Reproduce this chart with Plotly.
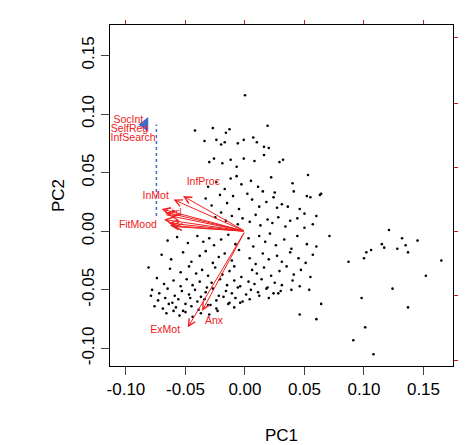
import plotly.graph_objects as go

pc1 = [0.000,-0.042,-0.027,-0.016,-0.013,0.019,-0.034,-0.024,-0.020,-0.017,-0.006,-0.001,0.007,0.010,0.016,0.020,
 -0.030,-0.026,-0.019,-0.012,-0.007,-0.001,0.008,0.016,0.029,0.032,-0.031,-0.024,-0.017,-0.012,-0.007,-0.003,0.005,0.011,0.015,0.022,0.025,0.040,0.041,0.053,0.055,0.064,
 -0.033,-0.028,-0.021,-0.015,-0.010,-0.005,0.002,0.006,0.012,0.018,0.024,0.027,0.031,0.036,0.046,0.050,0.060,
 -0.025,-0.020,-0.016,-0.011,-0.006,-0.002,0.004,0.009,0.013,0.019,0.023,0.028,0.034,0.038,0.044,0.050,0.057,
 -0.065,-0.057,-0.048,-0.040,-0.035,-0.030,-0.026,-0.020,-0.014,-0.008,0.003,0.007,0.012,0.017,0.021,0.026,0.033,0.039,0.044,0.052,0.060,
 -0.070,-0.062,-0.052,-0.045,-0.038,-0.033,-0.027,-0.022,-0.017,-0.011,-0.005,0.004,0.009,0.015,0.020,0.027,0.031,0.038,0.045,0.051,0.057,
 -0.063,-0.054,-0.047,-0.041,-0.036,-0.031,-0.025,-0.019,-0.013,-0.009,-0.003,0.006,0.010,0.016,0.022,0.029,0.035,0.041,0.047,0.055,
 -0.081,-0.074,-0.068,-0.060,-0.054,-0.049,-0.044,-0.038,-0.032,-0.028,-0.021,-0.015,-0.009,-0.004,0.003,0.008,0.014,0.019,0.025,0.031,0.040,0.046,0.054,
 -0.078,-0.072,-0.065,-0.059,-0.053,-0.047,-0.042,-0.037,-0.033,-0.027,-0.022,-0.016,-0.011,-0.006,0.001,0.005,0.011,0.018,0.024,0.030,0.039,
 -0.079,-0.073,-0.067,-0.061,-0.056,-0.050,-0.046,-0.040,-0.034,-0.029,-0.024,-0.018,-0.013,-0.008,-0.002,0.004,0.012,0.020,0.028,
 -0.076,-0.069,-0.064,-0.058,-0.052,-0.045,-0.039,-0.031,-0.024,-0.014,-0.009,-0.004,
 -0.066,-0.060,-0.055,-0.050,-0.044,-0.037,-0.030,-0.023,
 0.071,0.087,0.098,0.100,0.102,0.106,0.115,0.117,0.121,0.128,0.132,0.135,0.137,0.145,0.165,0.152,0.124,0.137,0.101,0.091,0.108,0.046,0.060,0.064,0.052,0.063]
pc2 = [0.116,0.086,0.088,0.084,0.087,0.090,0.077,0.078,0.074,0.076,0.075,0.078,0.080,0.076,0.072,0.071,
 0.059,0.062,0.058,0.061,0.055,0.062,0.060,0.065,0.059,0.061,0.038,0.042,0.036,0.045,0.047,0.040,0.043,0.038,0.034,0.046,0.033,0.041,0.034,0.048,0.029,0.032,
 0.028,0.022,0.031,0.024,0.030,0.019,0.032,0.027,0.021,0.025,0.029,0.020,0.023,0.021,0.019,0.015,0.013,
 0.012,0.016,0.009,0.013,0.006,0.011,0.008,0.014,0.005,0.010,0.007,0.012,0.004,0.009,0.011,0.003,0.006,
 -0.008,-0.005,-0.010,-0.004,-0.009,-0.006,-0.012,-0.007,-0.003,-0.011,-0.006,-0.013,-0.004,-0.009,-0.002,-0.012,-0.007,-0.015,-0.004,-0.011,-0.013,
 -0.020,-0.024,-0.018,-0.026,-0.021,-0.017,-0.027,-0.022,-0.019,-0.025,-0.016,-0.023,-0.028,-0.019,-0.024,-0.021,-0.026,-0.018,-0.023,-0.027,-0.020,
 -0.032,-0.035,-0.030,-0.036,-0.033,-0.038,-0.031,-0.037,-0.034,-0.030,-0.039,-0.033,-0.036,-0.031,-0.038,-0.034,-0.030,-0.037,-0.033,-0.039,
 -0.031,-0.040,-0.045,-0.042,-0.047,-0.041,-0.046,-0.043,-0.048,-0.044,-0.041,-0.046,-0.042,-0.047,-0.043,-0.045,-0.041,-0.048,-0.044,-0.046,-0.042,-0.047,-0.050,
 -0.050,-0.053,-0.049,-0.055,-0.051,-0.054,-0.050,-0.056,-0.052,-0.049,-0.055,-0.051,-0.053,-0.048,-0.054,-0.050,-0.052,-0.049,-0.053,-0.051,-0.050,
 -0.055,-0.059,-0.057,-0.061,-0.058,-0.062,-0.057,-0.060,-0.058,-0.063,-0.059,-0.056,-0.061,-0.057,-0.060,-0.058,-0.055,-0.057,-0.053,
 -0.064,-0.066,-0.062,-0.065,-0.068,-0.064,-0.067,-0.063,-0.066,-0.062,-0.065,-0.061,
 -0.070,-0.068,-0.072,-0.069,-0.073,-0.070,-0.071,-0.068,
 -0.004,-0.026,-0.057,-0.023,-0.018,-0.016,-0.011,-0.014,0.001,-0.015,-0.006,-0.012,-0.018,-0.008,-0.025,-0.038,-0.049,-0.065,-0.082,-0.093,-0.105,-0.071,-0.075,-0.062,0.030,0.031]

arrow_x = [-0.052,-0.060,-0.070,-0.066,-0.062,-0.068,-0.064,-0.060,-0.063,-0.036,-0.048]
arrow_y = [0.030,0.027,0.019,0.016,0.013,0.010,0.007,0.004,0.005,-0.068,-0.082]
label_names = ["InfProc","InMot","FitMood","Anx","ExMot","SocInt","SelfReg","InfSearch"]
label_x = [-0.035,-0.075,-0.090,-0.026,-0.067,-0.098,-0.097,-0.094]
label_y = [0.042,0.030,0.005,-0.077,-0.085,0.095,0.087,0.079]

fig = go.Figure()
fig.add_trace(go.Scatter(x=pc1, y=pc2, mode="markers", marker=dict(size=2.6, color="black"), hoverinfo="skip"))
for ax, ay in zip(arrow_x, arrow_y):
    fig.add_annotation(x=ax, y=ay, ax=0, ay=0, xref="x", yref="y", axref="x", ayref="y",
                       showarrow=True, arrowhead=5, arrowsize=1.4, arrowwidth=1, arrowcolor="#f02020", text="")
fig.add_trace(go.Scatter(x=[-0.0744,-0.0744], y=[0.013,0.091], mode="lines",
                         line=dict(color="#3a6ec8", dash="dot", width=1.5), hoverinfo="skip"))
fig.add_trace(go.Scatter(x=[-0.084], y=[0.091], mode="markers",
                         marker=dict(symbol="triangle-left", size=13, color="#3a6ec8"), hoverinfo="skip"))
fig.add_trace(go.Scatter(x=label_x, y=label_y, mode="text", text=label_names,
                         textfont=dict(color="#f02020", size=10.5, family="Liberation Sans"), hoverinfo="skip"))
fig.add_trace(go.Scatter(x=[-0.060], y=[0.015], mode="text", text=["Ctrl"],
                         textfont=dict(color="#f02020", size=10), hoverinfo="skip"))
fig.add_trace(go.Scatter(x=[0], y=[0], xaxis="x2", yaxis="y2", mode="markers", marker=dict(opacity=0), hoverinfo="skip"))

tickfont = dict(size=17, family="Liberation Sans", color="black")
tv = [-0.1,-0.05,0,0.05,0.1,0.15]
tt = ["-0.10","-0.05","0.00","0.05","0.10","0.15"]
fig.update_layout(
    width=474, height=445, margin=dict(l=102, r=29, t=17, b=84),
    plot_bgcolor="white", paper_bgcolor="white", showlegend=False,
    xaxis=dict(range=[-0.1134,0.1748], tickvals=tv, ticktext=tt,
               ticks="outside", ticklen=8, showgrid=False, zeroline=False, showline=True, linecolor="black", mirror=True,
               tickfont=tickfont, title=dict(text="PC1", font=dict(size=17, family="Liberation Sans", color="black"), standoff=30)),
    yaxis=dict(range=[-0.115,0.176], tickvals=tv, ticktext=tt,
               tickangle=-90, ticks="outside", ticklen=8, showgrid=False, zeroline=False, showline=True, linecolor="black", mirror=True,
               tickfont=tickfont, title=dict(text="PC2", font=dict(size=17, family="Liberation Sans", color="black"), standoff=10)),
    xaxis2=dict(overlaying="x", side="top", range=[-0.1134,0.1748], tickvals=tv, showticklabels=False,
                ticks="outside", ticklen=4, tickcolor="#c02020", showgrid=False, zeroline=False),
    yaxis2=dict(overlaying="y", side="right", range=[-0.115,0.176], tickvals=[-0.110,-0.055,0,0.054,0.109,0.165], showticklabels=False,
                ticks="outside", ticklen=4, tickcolor="#c02020", showgrid=False, zeroline=False),
)
fig.write_html("out.html")
